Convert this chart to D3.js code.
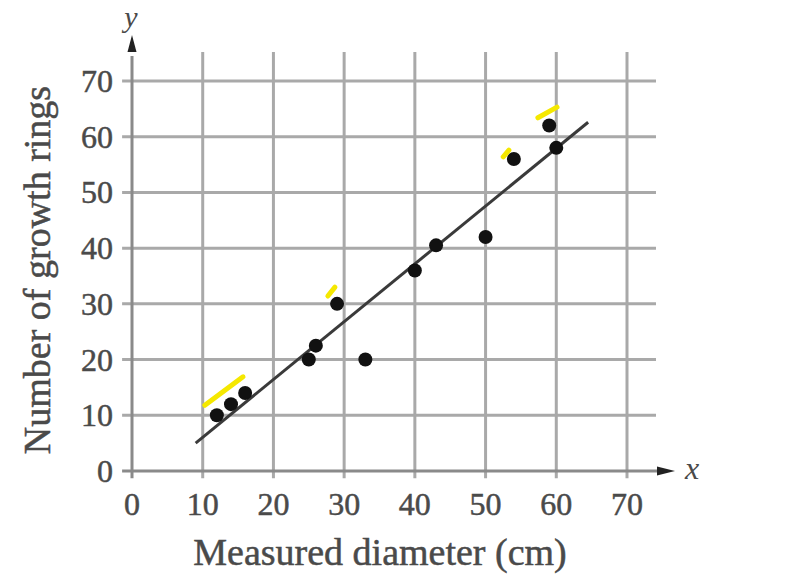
<!DOCTYPE html>
<html>
<head>
<meta charset="utf-8">
<script src="https://cdn.jsdelivr.net/npm/d3@7"></script>
<style>
  body { margin: 0; background: #fff; }
  text { font-family: 'Liberation Serif', 'DejaVu Serif', serif; }
</style>
</head>
<body>
<svg id="chart" width="789" height="577"></svg>
<script>
// measured diameter (cm) vs number of growth rings
const diameters = [12, 14, 16, 25, 26, 29, 33, 40, 43, 50, 54, 59, 60]
const rings = [10, 12, 14, 20, 22.5, 30, 20, 36, 40.5, 42, 56, 62, 58]

// fitted line end points
const fitX = [9, 64.5]
const fitY = [5, 62.6]

// yellow marker strokes drawn on the page: [x1, y1, x2, y2]
const marks = [
  [10.3, 11.8, 15.7, 16.9],
  [27.7, 31.4, 28.7, 33.0],
  [52.5, 56.4, 53.3, 57.6],
  [57.4, 63.4, 60.1, 65.3]
]

const ticks = [0, 10, 20, 30, 40, 50, 60, 70]

const svg = d3.select('#chart')

const x = d3.scaleLinear().domain([0, 70]).range([132, 627])
const y = d3.scaleLinear().domain([0, 70]).range([471, 81])

const gridColor = '#a9a9a9'
const axisColor = '#8a8a8a'
const textColor = '#4a4a4a'

// grid
svg.append('g')
  .selectAll('line')
  .data(ticks.slice(1))
  .enter().append('line')
  .attr('x1', d => x(d)).attr('x2', d => x(d))
  .attr('y1', y(-1.3)).attr('y2', y(75.2))
  .attr('stroke', gridColor)
  .attr('stroke-width', 3)

svg.append('g')
  .selectAll('line')
  .data(ticks.slice(1))
  .enter().append('line')
  .attr('y1', d => y(d)).attr('y2', d => y(d))
  .attr('x1', x(-1.4)).attr('x2', x(74.1))
  .attr('stroke', gridColor)
  .attr('stroke-width', 3)

// axes
svg.append('line')
  .attr('x1', x(-1.4)).attr('x2', x(74.5))
  .attr('y1', y(0)).attr('y2', y(0))
  .attr('stroke', axisColor)
  .attr('stroke-width', 3)

svg.append('line')
  .attr('x1', x(0)).attr('x2', x(0))
  .attr('y1', y(-1.3)).attr('y2', y(74.5))
  .attr('stroke', axisColor)
  .attr('stroke-width', 3)

// arrow heads
const ax = x(0)
const ayTip = 35
svg.append('path')
  .attr('d', `M${ax},${ayTip}L${ax - 4.5},${ayTip + 17}L${ax + 4.5},${ayTip + 17}Z`)
  .attr('fill', '#222')

const bx = 675
const by = y(0)
svg.append('path')
  .attr('d', `M${bx},${by}L${bx - 18},${by - 4.5}L${bx - 18},${by + 4.5}Z`)
  .attr('fill', '#222')

// tick labels
svg.append('g')
  .selectAll('text')
  .data(ticks)
  .enter().append('text')
  .attr('x', d => x(d))
  .attr('y', 515)
  .attr('text-anchor', 'middle')
  .attr('fill', textColor)
  .attr('stroke', textColor)
  .attr('stroke-width', 0.5)
  .style('font-size', '32px')
  .text(d => d)

svg.append('g')
  .selectAll('text')
  .data(ticks)
  .enter().append('text')
  .attr('x', 113)
  .attr('y', d => y(d) + 11)
  .attr('text-anchor', 'end')
  .attr('fill', textColor)
  .attr('stroke', textColor)
  .attr('stroke-width', 0.5)
  .style('font-size', '32px')
  .text(d => d)

// axis titles
svg.append('text')
  .attr('x', 380)
  .attr('y', 565)
  .attr('text-anchor', 'middle')
  .attr('fill', textColor)
  .attr('stroke', textColor)
  .attr('stroke-width', 0.5)
  .style('font-size', '38px')
  .text('Measured diameter (cm)')

svg.append('text')
  .attr('transform', 'translate(50,270) rotate(-90)')
  .attr('text-anchor', 'middle')
  .attr('fill', textColor)
  .attr('stroke', textColor)
  .attr('stroke-width', 0.5)
  .style('font-size', '38px')
  .text('Number of growth rings')

svg.append('text')
  .attr('x', 131)
  .attr('y', 27)
  .attr('text-anchor', 'middle')
  .attr('fill', textColor)
  .style('font-size', '30px')
  .style('font-style', 'italic')
  .text('y')

svg.append('text')
  .attr('x', 692)
  .attr('y', 479)
  .attr('text-anchor', 'middle')
  .attr('fill', textColor)
  .style('font-size', '32px')
  .style('font-style', 'italic')
  .text('x')

// fitted line
svg.append('line')
  .attr('x1', x(fitX[0])).attr('y1', y(fitY[0]))
  .attr('x2', x(fitX[1])).attr('y2', y(fitY[1]))
  .attr('stroke', '#3a3a3a')
  .attr('stroke-width', 3)

// points
svg.append('g')
  .selectAll('circle')
  .data(diameters)
  .enter().append('circle')
  .attr('cx', d => x(d))
  .attr('cy', (d, i) => y(rings[i]))
  .attr('r', 7)
  .attr('fill', '#111')

// yellow marks
svg.append('g')
  .selectAll('line')
  .data(marks)
  .enter().append('line')
  .attr('x1', d => x(d[0])).attr('y1', d => y(d[1]))
  .attr('x2', d => x(d[2])).attr('y2', d => y(d[3]))
  .attr('stroke', '#f5e800')
  .attr('stroke-width', 5)
  .attr('stroke-linecap', 'round')
</script>
</body>
</html>
